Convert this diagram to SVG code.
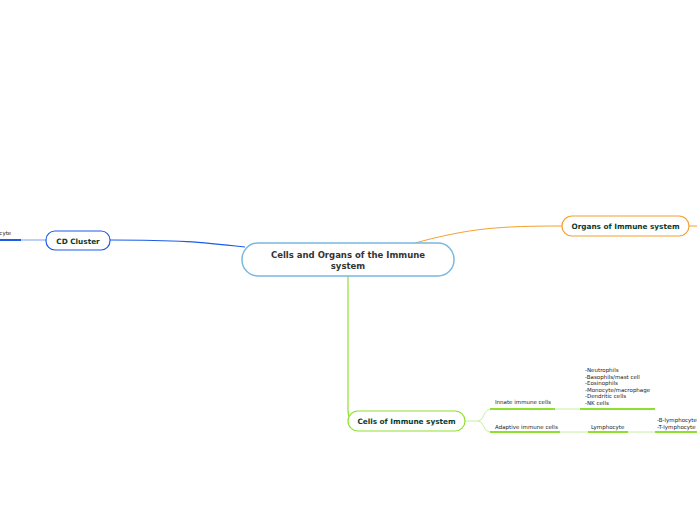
<svg xmlns="http://www.w3.org/2000/svg" width="697" height="520" viewBox="0 0 697 520">
<style>
text{font-family:"DejaVu Sans",Verdana,sans-serif}
.t{font-size:7.3px;font-weight:bold;fill:#0b3b2e}
.s{font-size:5.5px;fill:#222}
.g{stroke:#8ee030;stroke-width:2;fill:none}
.gl{stroke:#c8f0a0;stroke-width:1;fill:none}
</style>
<rect width="697" height="520" fill="#fff"/>
<g id="connectors" fill="none">
<path d="M110,240 C180,240 200,242 245,247" stroke="#1a5ce8" stroke-width="1.2"/>
<path d="M21,240 H46" stroke="#a8c0f5" stroke-width="1.5"/>
<path d="M0,240 H21" stroke="#1a5ce8" stroke-width="2"/>
<path d="M415,243 C470,228 500,226 562,226" stroke="#f5a030" stroke-width="1"/>
<path d="M689,226 H697" stroke="#f5a030" stroke-width="1"/>
<path d="M348,276 V410 Q348,421 356,421" stroke="#8ee030" stroke-width="1.2"/>
<path d="M465,421 H478 Q482,421 484,415 Q486,409 492,409 M478,421 Q482,421 484,427 Q486,432 492,432" stroke="#c8f0a0" stroke-width="1"/>
<path class="g" d="M490,409 H555"/>
<path class="gl" d="M555,409 H580"/>
<path class="g" d="M580,409 H655"/>
<path class="g" d="M490,432 H560"/>
<path class="gl" d="M560,432 H588"/>
<path class="g" d="M588,432 H628"/>
<path class="gl" d="M628,432 H655"/>
<path class="g" d="M655,432 H697"/>
</g>
<g id="central"><rect x="242" y="243" width="212" height="33" rx="16" fill="#fff" stroke="#7ab8e0" stroke-width="1.5"/>
<text x="348" y="258" text-anchor="middle" class="t" style="font-size:8.5px;fill:#333">Cells and Organs of the Immune</text>
<text x="348" y="269" text-anchor="middle" class="t" style="font-size:8.5px;fill:#333">system</text></g>
<g id="cd"><rect x="46" y="231" width="64" height="19" rx="9" fill="#fff" stroke="#1a5ce8" stroke-width="1.2"/>
<text x="78" y="243.5" text-anchor="middle" class="t">CD Cluster</text>
<text x="-4" y="235" class="s">ocyte</text></g>
<g id="organs"><rect x="562" y="216" width="127" height="20" rx="10" fill="#fff" stroke="#f5a030" stroke-width="1.2"/>
<text x="625.5" y="229" text-anchor="middle" class="t">Organs of Immune system</text></g>
<g id="cells"><rect x="348" y="411" width="117" height="20" rx="10" fill="#fff" stroke="#8ee030" stroke-width="1.2"/>
<text x="406.5" y="424" text-anchor="middle" class="t">Cells of Immune system</text></g>
<g id="innate"><text x="495" y="404" class="s">Innate immune cells</text></g>
<g id="innatelist"><text class="s">
<tspan x="585" y="372">-Neutrophils</tspan><tspan x="585" y="378.5">-Basophils/mast cell</tspan><tspan x="585" y="385">-Eosinophils</tspan><tspan x="585" y="391.5">-Monocyte/macrophage</tspan><tspan x="585" y="398">-Dendritic cells</tspan><tspan x="585" y="404.5">-NK cells</tspan></text></g>
<g id="adaptive"><text x="495" y="429" class="s">Adaptive immune cells</text></g>
<g id="lympho"><text x="591" y="429" class="s">Lymphocyte</text></g>
<g id="bt"><text class="s"><tspan x="657" y="422">-B-lymphocyte</tspan><tspan x="657" y="428.5">-T-lymphocyte</tspan></text></g>
</svg>
